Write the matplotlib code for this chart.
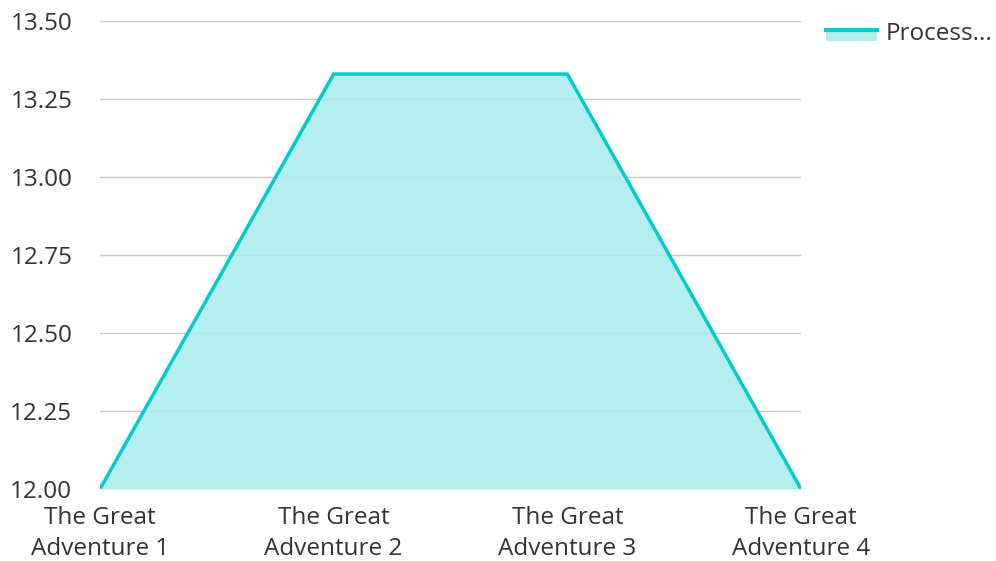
import matplotlib
matplotlib.use("Agg")
import matplotlib.pyplot as plt
from matplotlib.patches import Rectangle
from matplotlib.lines import Line2D
from matplotlib.legend_handler import HandlerBase

# data
categories = ["The Great\nAdventure 1", "The Great\nAdventure 2",
              "The Great\nAdventure 3", "The Great\nAdventure 4"]
values = [12.00, 13.33, 13.33, 12.00]
y_ticks = [12.00, 12.25, 12.50, 12.75, 13.00, 13.25, 13.50]
series_name = "Process..."

LINE = "#00CCCC"
FILL = "#A8ECEC"
TEXT = "#333333"

plt.rcParams["font.family"] = ["Open Sans", "DejaVu Sans"]


class AreaHandler(HandlerBase):
    """legend swatch: light box with the line along its top edge"""
    def create_artists(self, legend, orig, xd, yd, w, h, fontsize, trans):
        box = Rectangle((xd, yd - h * 0.05), w, h * 0.65, facecolor="#B2EEEE", edgecolor="none", transform=trans)
        top = Line2D([xd, xd + w], [yd + h * 0.6, yd + h * 0.6], color=LINE, lw=3, transform=trans)
        return [box, top]


fig = plt.figure(figsize=(9.96, 5.61), dpi=100)
ax = fig.add_axes([100 / 996, 1 - 489 / 561, 701 / 996, 468 / 561])

x = list(range(len(categories)))
ax.fill_between(x, y_ticks[0], values, color=FILL, alpha=0.85, lw=0, zorder=2)
ax.plot(x, values, color=LINE, lw=2.5, zorder=3, solid_joinstyle="miter")

ax.set_xlim(0, len(categories) - 1)
ax.set_ylim(y_ticks[0], y_ticks[-1])
ax.set_yticks(y_ticks)
ax.set_yticklabels([f"{v:.2f}" for v in y_ticks])
ax.set_xticks(x)
ax.set_xticklabels(categories, linespacing=1.4)
ax.tick_params(length=0, labelsize=17.5, labelcolor=TEXT)
ax.tick_params(axis="y", pad=20)
ax.tick_params(axis="x", pad=12)

ax.grid(axis="y", color="#C8C8C8", lw=1, zorder=1)
ax.set_axisbelow(True)
for s in ax.spines.values():
    s.set_visible(False)

handle = Rectangle((0, 0), 1, 1)
ax.legend([handle], [series_name], handler_map={Rectangle: AreaHandler()},
          loc="upper left", bbox_to_anchor=(826 / 996, 1 - 22 / 561),
          bbox_transform=fig.transFigure, frameon=False, fontsize=17.5,
          handlelength=2.1, handletextpad=0.35, labelcolor=TEXT,
          borderpad=0, borderaxespad=0)

fig.savefig("out.png", dpi=100)
